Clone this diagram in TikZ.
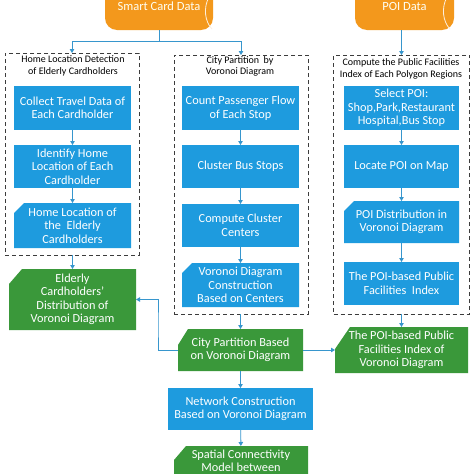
\documentclass[tikz,border=0pt]{standalone}
\usepackage{fontspec}
\setmainfont{Carlito}
\usetikzlibrary{arrows.meta,backgrounds,calc}
\definecolor{bxblue}{RGB}{30,155,222}
\definecolor{bxgreen}{RGB}{58,152,58}
\definecolor{bxorange}{RGB}{243,152,28}
\definecolor{arrowc}{RGB}{55,150,205}
\definecolor{dashc}{RGB}{60,60,60}
\newcommand\cutfill[4]{%
  \fill[#2] ($(#1.north west)+(#3,0)$) -- (#1.north east) -- (#1.south east) -- (#1.south west) -- ($(#1.north west)+(0,#4)$) -- cycle;}
\tikzset{
  base/.style={inner sep=0pt, outer sep=0pt, align=center, text=white,
    font=\fontsize{12.3}{13.5}\selectfont},
  bluebox/.style={base, fill=bxblue},
  cutbox/.style={base},
  grp/.style={draw=dashc, dash pattern=on 4pt off 3pt, line width=0.9pt, inner sep=0pt, outer sep=0pt},
  ttl/.style={align=center, text=black, inner sep=0pt, font=\fontsize{10}{11.5}\selectfont},
  arr/.style={-{Triangle[width=4.5pt,length=4pt]}, draw=arrowc, line width=0.9pt},
  plain/.style={draw=arrowc, line width=0.9pt},
  cyl/.style={base, fill=bxorange, rounded corners=12pt, text=white!95!yellow, font=\fontsize{12.5}{14}\selectfont}
}
\begin{document}
\begin{tikzpicture}[x=1pt,y=-1pt]
\useasboundingbox (0,0) rectangle (474,474);
\clip (0,0) rectangle (474,474);

% data sources
\node[cyl, minimum width=108pt, minimum height=48pt] (sc) at (159,6) {Smart Card Data};
\node[cyl, minimum width=99pt, minimum height=48pt] (pd) at (404.5,6) {POI Data};
\draw[white!85!bxorange, line width=0.8pt] (209,-3) .. controls (203,8) and (205,22) .. (212,29);
\draw[white!85!bxorange, line width=0.8pt] (447,-3) .. controls (441,8) and (443,22) .. (450,29);

% group frames
\node[grp, minimum width=134pt, minimum height=202pt] (boxL) at (72,154) {};
\node[grp, minimum width=134pt, minimum height=259pt] (boxM) at (241,184.5) {};
\node[grp, minimum width=136pt, minimum height=259pt] (boxR) at (401.5,184.5) {};
\node[ttl] (tL) at (73,66) {Home Location Detection\\of Elderly Cardholders};
\node[ttl] (tM) at (240,66.5) {City Partition~ by\\Voronoi Diagram};
\node[ttl] (tR) at (401,69) {Compute the Public Facilities\\Index of Each Polygon Regions};

% left column
\node[bluebox, minimum width=117pt, minimum height=44pt] (L1) at (72.5,108) {Collect Travel Data of\\Each Cardholder};
\node[bluebox, minimum width=117pt, minimum height=43pt] (L2) at (72.5,166.5) {Identify Home\\Location of Each\\Cardholder};
\node[cutbox, minimum width=117pt, minimum height=45pt] (L3) at (72.5,225.5) {Home Location of\\the~ Elderly\\Cardholders};

% middle column
\node[bluebox, minimum width=117pt, minimum height=44pt] (M1) at (240.5,108) {Count Passenger Flow\\of Each Stop};
\node[bluebox, minimum width=117pt, minimum height=43pt] (M2) at (240.5,166.5) {Cluster Bus Stops};
\node[bluebox, minimum width=117pt, minimum height=43pt] (M3) at (240.5,225.5) {Compute Cluster\\Centers};
\node[cutbox, minimum width=117pt, minimum height=44pt] (M4) at (240.5,285) {Voronoi Diagram\\Construction\\Based on Centers};

% right column
\node[bluebox, minimum width=115pt, minimum height=44pt] (R1) at (401.5,108) {Select POI:\\Shop,Park,Restaurant\\Hospital,Bus Stop};
\node[bluebox, minimum width=115pt, minimum height=43pt] (R2) at (401.5,166.5) {Locate POI on Map};
\node[cutbox, minimum width=115pt, minimum height=42pt] (R3) at (401.5,222) {POI Distribution in\\Voronoi Diagram};
\node[bluebox, minimum width=115pt, minimum height=43pt] (R4) at (401.5,283.5) {The POI-based Public\\Facilities~ Index};

% results
\node[cutbox, minimum width=127pt, minimum height=61pt] (GE) at (72.5,299.5) {Elderly\\Cardholders'\\Distribution of\\Voronoi Diagram};
\node[cutbox, minimum width=125pt, minimum height=42pt] (GC) at (240.5,350) {City Partition Based\\on Voronoi Diagram};
\node[cutbox, minimum width=133pt, minimum height=46pt] (GP) at (401.5,350) {The POI-based Public\\Facilities Index of\\Voronoi Diagram};
\node[bluebox, minimum width=145pt, minimum height=42pt] (NC) at (240.5,409) {Network Construction\\Based on Voronoi Diagram};
\node[cutbox, minimum width=134pt, minimum height=30pt] (SC) at (241,461) {Spatial Connectivity\\Model between};

\begin{scope}[on background layer]
\fill[white] (0,0) rectangle (474,474);
\cutfill{L3}{bxblue}{10}{10}
\cutfill{M4}{bxblue}{10}{10}
\cutfill{R3}{bxblue}{10}{10}
\cutfill{GE}{bxgreen}{13}{15}
\cutfill{GC}{bxgreen}{10}{16}
\cutfill{GP}{bxgreen}{15}{22}
\fill[bxgreen] ($(SC.north west)+(12,0)$) -- (SC.north east) -- ($(SC.north east)+(0,40)$) -- ($(SC.north west)+(0,40)$) -- ($(SC.north west)+(0,14)$) -- cycle;
\end{scope}

% connectors
\coordinate (j) at (159,41);
\draw[plain] (sc.south) -- (j);
\draw[arr] (j) -| (boxL.north);
\draw[arr] (j) -| (boxM.north);
\draw[arr] (pd.south -| boxR.north) -- (boxR.north);
\draw[arr] (L1) -- (L2);
\draw[arr] (L2) -- (L3);
\draw[arr] (M1) -- (M2);
\draw[arr] (M2) -- (M3);
\draw[arr] (M3) -- (M4);
\draw[arr] (R1) -- (R2);
\draw[arr] (R2) -- (R3);
\draw[arr] (R3) -- (R4);
\draw[arr] (boxL.south -| GE.north) -- (GE.north);
\draw[arr] (boxM.south -| GC.north) -- (GC.north);
\draw[arr] (boxR.south -| GP.north) -- (GP.north);
\coordinate (k) at (158,325);
\draw[arr] (GC.west) -| (k) |- (GE.east);
\draw[arr] (GC.east) -- (GP.west);
\draw[arr] (GC) -- (NC);
\draw[arr] (NC) -- (SC);
\end{tikzpicture}
\end{document}
